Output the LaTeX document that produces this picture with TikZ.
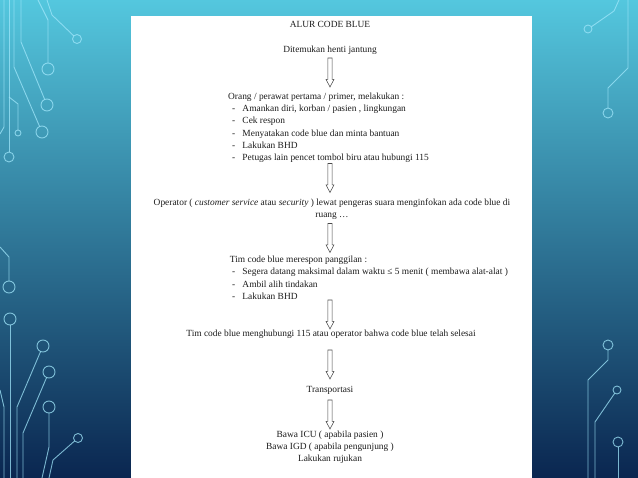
\documentclass[tikz,border=0pt]{standalone}
\usepackage{fontspec}
\setmainfont{Liberation Serif}
\usetikzlibrary{shapes.arrows}
\definecolor{bgtop}{RGB}{84,199,222}
\definecolor{bgmid}{RGB}{40,145,190}
\definecolor{bgbot}{RGB}{10,38,80}
\definecolor{circ}{RGB}{160,230,250}
\definecolor{txt}{RGB}{28,28,28}
\begin{document}
\begin{tikzpicture}[x=1pt,y=-1pt,
  txtstyle/.style={font=\fontsize{9.4}{12.2}\selectfont, text=txt, inner sep=0pt},
  blockarrow/.style={single arrow, draw=txt!80, line width=0.55pt, fill=white,
    minimum height=29pt, inner sep=1.8pt, single arrow head extend=1.9pt,
    single arrow tip angle=55, rotate=-90},
  wire/.style={draw=circ, line width=0.9pt, opacity=0.75, line join=round},
  pad/.style={draw=circ, line width=0.9pt, opacity=0.75}]
\useasboundingbox (0,0) rectangle (638,478);
% background
\shade[shading angle=15, top color=bgtop, middle color=bgmid, bottom color=bgbot]
  (0,0) rectangle (638,478);
% circuit decorations, left top
\draw[wire] (9,0) -- (9,152);
\draw[pad] (9,157) circle[radius=5pt];
\draw[wire] (4,0) -- (4,127) -- (0,134);
\draw[wire] (14,0) -- (14,67) -- (39.6,126.5);
\draw[pad] (42,132) circle[radius=6pt];
\draw[wire] (21,0) -- (21,42) -- (44.7,99.5);
\draw[pad] (47,105) circle[radius=6pt];
\draw[wire] (38,0) -- (48,20) -- (48,63);
\draw[pad] (48,69) circle[radius=6pt];
\draw[wire] (47,0) -- (52,15) -- (73.8,35.9);
\draw[pad] (77,39) circle[radius=4.5pt];
\draw[wire] (9,97) -- (18,104) -- (18,130);
\draw[pad] (18,133) circle[radius=3pt];
% left middle / bottom
\draw[wire] (0,247) -- (9,257) -- (9,281);
\draw[pad] (9,287) circle[radius=6pt];
\draw[pad] (10,319) circle[radius=6pt];
\draw[wire] (10,325) -- (10,478);
\draw[pad] (43,346) circle[radius=6pt];
\draw[wire] (40.6,351.5) -- (17,407) -- (17,478);
\draw[pad] (49,372) circle[radius=6pt];
\draw[wire] (46.6,377.5) -- (23,433) -- (23,478);
\draw[pad] (49,407) circle[radius=6pt];
\draw[wire] (49,413) -- (49,447) -- (42,478);
\draw[pad] (78,438) circle[radius=4.5pt];
\draw[wire] (74.6,441) -- (53,460) -- (49,478);
\draw[wire] (0,390) -- (4,407) -- (4,478);
% right side
\draw[pad] (588,29) circle[radius=4pt];
\draw[wire] (591.3,26.8) -- (614,11) -- (619,0);
\draw[wire] (628,0) -- (628,68) -- (608,88) -- (608,108);
\draw[pad] (608,113) circle[radius=5pt];
\draw[pad] (608,345) circle[radius=5pt];
\draw[wire] (608,350) -- (608,360) -- (588,380) -- (588,478);
\draw[pad] (617,390) circle[radius=4pt];
\draw[wire] (614.7,393.3) -- (595,422) -- (595,478);
\draw[pad] (618,442) circle[radius=5pt];
\draw[wire] (618,447) -- (618,478);
% page
\fill[white] (131,16) rectangle (532,478);
% texts
\node[txtstyle, anchor=base] (title) at (330,28) {ALUR CODE BLUE};
\node[txtstyle, anchor=base] (start) at (330,53) {Ditemukan henti jantung};
\node[txtstyle, anchor=north west, align=left] (first) at (228,92.7)
  {Orang / perawat pertama / primer, melakukan :\\
   \hspace*{4pt}\makebox[10.3pt][l]{-}Amankan diri, korban / pasien , lingkungan\\
   \hspace*{4pt}\makebox[10.3pt][l]{-}Cek respon\\
   \hspace*{4pt}\makebox[10.3pt][l]{-}Menyatakan code blue dan minta bantuan\\
   \hspace*{4pt}\makebox[10.3pt][l]{-}Lakukan BHD\\
   \hspace*{4pt}\makebox[10.3pt][l]{-}Petugas lain pencet tombol biru atau hubungi 115};
\node[txtstyle, anchor=north, align=center, font=\fontsize{9.4}{11.7}\selectfont] (oper) at (332,198.7)
  {Operator ( \textit{customer service} atau \textit{security} ) lewat pengeras suara menginfokan ada code blue di\\
   ruang \dots};
\node[txtstyle, anchor=north west, align=left, font=\fontsize{9.4}{12.3}\selectfont] (team) at (229.7,255.7)
  {Tim code blue merespon panggilan :\\
   \hspace*{2.3pt}\makebox[10.3pt][l]{-}Segera datang maksimal dalam waktu ≤ 5 menit ( membawa alat-alat )\\
   \hspace*{2.3pt}\makebox[10.3pt][l]{-}Ambil alih tindakan\\
   \hspace*{2.3pt}\makebox[10.3pt][l]{-}Lakukan BHD};
\node[txtstyle, anchor=base] (done) at (331,337)
  {Tim code blue menghubungi 115 atau operator bahwa code blue telah selesai};
\node[txtstyle, anchor=base] (trans) at (330,393) {Transportasi};
\node[txtstyle, anchor=north, align=center, font=\fontsize{9.4}{12}\selectfont] (final) at (330,430.7)
  {Bawa ICU ( apabila pasien )\\
   Bawa IGD ( apabila pengunjung )\\
   Lakukan rujukan};
% arrows
\node[blockarrow] (a1) at (330,70.5) {};
\node[blockarrow] (a2) at (330,176) {};
\node[blockarrow] (a3) at (330,236) {};
\node[blockarrow] (a4) at (330,312.5) {};
\node[blockarrow] (a5) at (330,362.5) {};
\node[blockarrow] (a6) at (330,412.5) {};
\end{tikzpicture}
\end{document}
